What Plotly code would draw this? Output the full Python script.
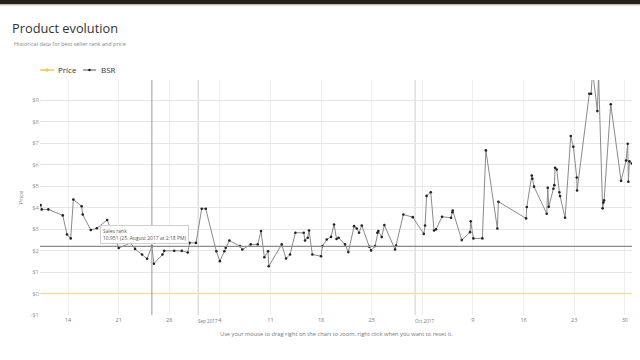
import plotly.graph_objects as go

# ---------------- data ----------------
bsr_dates = [
    "2017-08-10 05:00", "2017-08-10 08:40", "2017-08-11 06:40", "2017-08-13 06:30", "2017-08-13 20:40",
    "2017-08-14 09:00", "2017-08-14 17:40", "2017-08-15 21:20", "2017-08-16 00:50", "2017-08-17 03:40",
    "2017-08-17 23:40", "2017-08-19 10:00", "2017-08-21 00:15", "2017-08-22 15:30", "2017-08-23 06:30",
    "2017-08-24 05:45", "2017-08-24 22:20", "2017-08-25 14:18", "2017-08-25 21:00", "2017-08-27 01:40",
    "2017-08-27 07:20", "2017-08-28 16:30", "2017-08-29 17:30", "2017-08-30 13:30", "2017-08-30 19:15",
    "2017-08-31 16:50", "2017-09-01 11:45", "2017-09-02 01:10", "2017-09-03 12:20", "2017-09-04 00:00",
    "2017-09-04 14:50", "2017-09-04 19:30", "2017-09-05 07:30", "2017-09-06 19:00", "2017-09-07 02:40",
    "2017-09-08 06:30", "2017-09-09 05:45", "2017-09-09 16:40", "2017-09-10 03:40", "2017-09-10 16:00",
    "2017-09-10 18:15", "2017-09-12 13:20", "2017-09-13 03:40", "2017-09-13 17:00", "2017-09-14 10:35",
    "2017-09-15 14:25", "2017-09-15 18:45", "2017-09-16 03:40", "2017-09-16 08:00", "2017-09-16 19:00",
    "2017-09-17 23:50", "2017-09-18 04:05", "2017-09-18 18:45", "2017-09-19 09:00", "2017-09-19 19:00",
    "2017-09-20 03:20", "2017-09-20 10:00", "2017-09-21 07:30", "2017-09-21 18:30", "2017-09-22 13:30",
    "2017-09-22 22:20", "2017-09-23 06:00", "2017-09-23 15:00", "2017-09-24 16:05", "2017-09-24 21:50",
    "2017-09-25 11:00", "2017-09-25 18:40", "2017-09-25 22:00", "2017-09-26 09:20", "2017-09-26 18:00",
    "2017-09-28 05:30", "2017-09-28 08:50", "2017-09-29 09:00", "2017-09-30 16:20", "2017-10-02 04:50",
    "2017-10-02 09:10", "2017-10-02 14:10", "2017-10-03 04:05", "2017-10-03 15:00", "2017-10-03 21:35",
    "2017-10-04 17:30", "2017-10-05 23:20", "2017-10-06 03:40", "2017-10-06 05:00", "2017-10-07 10:50",
    "2017-10-08 14:25", "2017-10-08 16:45", "2017-10-09 01:25", "2017-10-10 07:15", "2017-10-10 19:00",
    "2017-10-12 09:05", "2017-10-12 12:30", "2017-10-16 08:25", "2017-10-16 10:45", "2017-10-17 03:20",
    "2017-10-17 05:20", "2017-10-17 10:50", "2017-10-19 05:00", "2017-10-19 08:25", "2017-10-19 11:40",
    "2017-10-20 03:00", "2017-10-20 06:15", "2017-10-20 08:35", "2017-10-20 14:10", "2017-10-20 22:50",
    "2017-10-21 01:10", "2017-10-21 17:50", "2017-10-22 12:45", "2017-10-22 21:20", "2017-10-23 08:40",
    "2017-10-23 09:40", "2017-10-25 02:25", "2017-10-25 08:10", "2017-10-25 13:10", "2017-10-26 05:00",
    "2017-10-26 09:00", "2017-10-26 22:20", "2017-10-27 01:00", "2017-10-27 03:20", "2017-10-28 01:30",
    "2017-10-29 11:45", "2017-10-30 04:20", "2017-10-30 09:50", "2017-10-30 12:00", "2017-10-30 15:20",
    "2017-10-30 23:20",
]
bsr_values = [
    4.12, 3.92, 3.92, 3.64, 2.75,
    2.57, 4.38, 4.07, 3.68, 2.96,
    3.04, 3.43, 2.12, 2.36, 2.08,
    1.82, 1.62, 2.20, 1.39, 1.82,
    1.99, 1.99, 1.99, 1.91, 2.36,
    2.36, 3.95, 3.95, 1.97, 1.51,
    1.97, 2.13, 2.47, 2.21, 2.05,
    2.29, 2.29, 2.91, 1.69, 1.97,
    1.27, 2.29, 1.63, 1.82, 2.83,
    2.83, 2.47, 2.60, 2.94, 1.82,
    1.74, 2.21, 2.52, 2.64, 3.22,
    2.54, 2.60, 2.29, 1.93, 3.14,
    3.03, 2.83, 3.17, 2.18, 2.01,
    2.21, 2.83, 2.91, 2.63, 3.19,
    2.05, 2.24, 3.68, 3.56, 2.78,
    3.17, 4.55, 4.72, 2.94, 2.99,
    3.58, 3.53, 3.79, 3.87, 2.49,
    2.86, 3.37, 2.57, 2.57, 6.67,
    3.03, 4.28, 3.50, 4.03, 5.50,
    5.35, 4.98, 3.72, 4.93, 4.04,
    4.88, 5.05, 5.86, 5.78, 4.72,
    4.54, 3.53, 7.34, 6.84, 5.41,
    4.80, 9.31, 9.31, 10.40, 8.50,
    10.20, 3.97, 4.24, 4.34, 8.82,
    5.25, 6.20, 6.98, 5.21, 6.16,
    6.06,
]
price_dates = ["2017-08-10 05:00", "2017-10-30 23:20"]
price_values = [0, 0]

hover_date = "2017-08-25 14:18"
hover_value = 2.20
hover_text = "Sales rank<br>10,951 (25. August 2017 at 2:18 PM)"

x_tick_vals = ["2017-08-14", "2017-08-21", "2017-08-28", "2017-09-04", "2017-09-11", "2017-09-18",
               "2017-09-25", "2017-10-02", "2017-10-09", "2017-10-16", "2017-10-23", "2017-10-30"]
x_tick_text = ["14", "21", "28", "4", "11", "18", "25", "", "9", "16", "23", "30"]
month_starts = ["2017-09-01", "2017-10-01"]
month_labels = ["Sep 2017", "Oct 2017"]
y_tick_vals = [-1, 0, 1, 2, 3, 4, 5, 6, 7, 8, 9]
y_tick_text = ["-$1", "$0", "$1", "$2", "$3", "$4", "$5", "$6", "$7", "$8", "$9"]
legend_names = ["Price", "BSR"]

x_range = ["2017-08-10 03:00", "2017-10-31 00:00"]
y_range = [-1, 9.95]

FONT = "Open Sans"
PRICE_COLOR = "#f5dd9a"
PRICE_MARK = "#f2c94c"
BSR_LINE = "#8a8a8a"
BSR_MARK = "#222222"

# plot area in pixels (for paper-coordinate helpers)
L, R, T, B = 40, 632, 80, 315
def px(x):
    return (x - L) / (R - L)
def py(y):
    return (B - y) / (B - T)

fig = go.Figure()
fig.add_trace(go.Scatter(
    x=price_dates, y=price_values, name=legend_names[0], mode="lines",
    line=dict(color=PRICE_COLOR, width=1.5), showlegend=False,
))
fig.add_trace(go.Scatter(
    x=bsr_dates, y=bsr_values, name=legend_names[1], mode="lines+markers",
    line=dict(color=BSR_LINE, width=1),
    marker=dict(color=BSR_MARK, size=2.6), showlegend=False,
))

shapes = []
for m in month_starts:
    shapes.append(dict(type="line", xref="x", yref="paper", x0=m, x1=m, y0=0, y1=1,
                       line=dict(color="#cfcfcf", width=1), layer="below"))
shapes.append(dict(type="line", xref="x", yref="paper", x0=hover_date, x1=hover_date, y0=0, y1=1,
                   line=dict(color="#9a9a9a", width=1)))
shapes.append(dict(type="line", xref="paper", yref="y", x0=0, x1=1, y0=hover_value, y1=hover_value,
                   line=dict(color="#8c8c8c", width=1.3)))
# top bar
shapes.append(dict(type="rect", xref="paper", yref="paper", x0=px(-5), x1=px(645), y0=py(4.5), y1=py(-2),
                   fillcolor="#24211c", line=dict(width=0), layer="above"))
shapes.append(dict(type="rect", xref="paper", yref="paper", x0=px(-5), x1=px(645), y0=py(6), y1=py(4.5),
                   fillcolor="#efe8cc", line=dict(width=0), layer="above"))
# custom legend symbols
shapes.append(dict(type="line", xref="paper", yref="paper", x0=px(40), x1=px(54), y0=py(70), y1=py(70),
                   line=dict(color=PRICE_MARK, width=1.5)))
shapes.append(dict(type="circle", xref="paper", yref="paper", x0=px(45.3), x1=px(48.7), y0=py(71.7), y1=py(68.3),
                   fillcolor=PRICE_MARK, line=dict(width=0)))
shapes.append(dict(type="line", xref="paper", yref="paper", x0=px(83), x1=px(96), y0=py(70), y1=py(70),
                   line=dict(color="#555", width=1)))
shapes.append(dict(type="circle", xref="paper", yref="paper", x0=px(88.2), x1=px(90.8), y0=py(71.3), y1=py(68.7),
                   fillcolor=BSR_MARK, line=dict(width=0)))

annotations = []
for m, lab in zip(month_starts, month_labels):
    annotations.append(dict(x=m, y=0, xref="x", yref="paper", text=lab, showarrow=False,
                            xanchor="left", yanchor="top", yshift=-1, xshift=-2,
                            font=dict(family=FONT, size=4.6, color="#777")))
annotations.append(dict(x=hover_date, y=hover_value, xref="x", yref="y", text=hover_text,
                        showarrow=False, xanchor="center", yanchor="middle", xshift=-7, yshift=12,
                        align="left", bgcolor="rgba(255,255,255,0.92)", bordercolor="#cfcfcf",
                        borderwidth=1, borderpad=2,
                        font=dict(family=FONT, size=5, color="#555")))
annotations.append(dict(x=px(12), y=py(44), xref="paper", yref="paper",
                        text="Historical data for best seller rank and price", showarrow=False,
                        xanchor="left", yanchor="middle",
                        font=dict(family=FONT, size=5.5, color="#888")))
annotations.append(dict(x=px(336), y=py(334), xref="paper", yref="paper",
                        text="Use your mouse to drag right on the chart to zoom, right click when you want to reset it.",
                        showarrow=False, xanchor="center", yanchor="middle",
                        font=dict(family=FONT, size=5.7, color="#777")))
annotations.append(dict(x=px(56), y=py(70), xref="paper", yref="paper", text=legend_names[0],
                        showarrow=False, xanchor="left", yanchor="middle",
                        font=dict(family=FONT, size=8, color="#333")))
annotations.append(dict(x=px(99), y=py(70), xref="paper", yref="paper", text=legend_names[1],
                        showarrow=False, xanchor="left", yanchor="middle",
                        font=dict(family=FONT, size=8, color="#333")))

fig.update_layout(
    width=640, height=360,
    margin=dict(l=L, r=640 - R, t=T, b=360 - B),
    paper_bgcolor="white", plot_bgcolor="white",
    font=dict(family=FONT, color="#666"),
    title=dict(text="Product evolution", x=12/640, xref="container", xanchor="left",
               y=1-29/360, yref="container", yanchor="middle",
               font=dict(family=FONT, size=12.8, color="#333")),
    showlegend=False,
    shapes=shapes,
    annotations=annotations,
    xaxis=dict(type="date", range=x_range, tickmode="array", tickvals=x_tick_vals, ticktext=x_tick_text,
               showgrid=True, gridcolor="#eeeeee", gridwidth=1, zeroline=False,
               showline=False, ticks="", tickfont=dict(family=FONT, size=5.5, color="#777")),
    yaxis=dict(range=y_range, tickmode="array", tickvals=y_tick_vals, ticktext=y_tick_text,
               showgrid=True, gridcolor="#e6e6e6", gridwidth=1, zeroline=False,
               ticks="", tickfont=dict(family=FONT, size=6, color="#999"),
               title=dict(text="Price", font=dict(family=FONT, size=6, color="#888"), standoff=6)),
    hovermode=False,
)

fig.write_html("out.html", config={"displayModeBar": False},
               post_script="document.body.style.margin='0';")
